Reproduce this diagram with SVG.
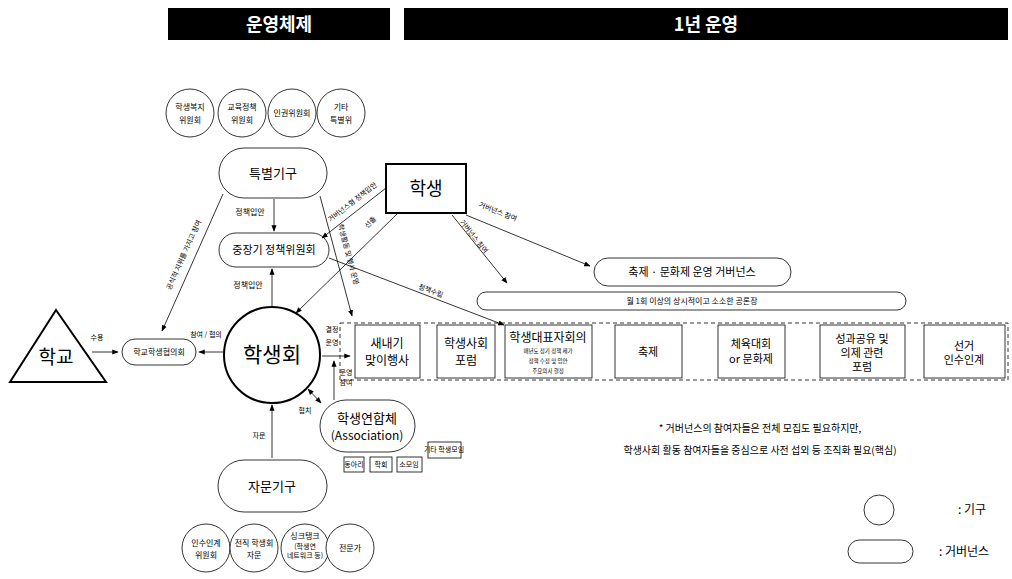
<svg xmlns="http://www.w3.org/2000/svg" width="1012" height="579" viewBox="0 0 1012 579">
<style>
text{font-family:"Noto Sans CJK KR","Liberation Serif",serif;fill:#000;text-anchor:middle}
.s{stroke:#000;fill:#fff;stroke-width:0.8}
.b{stroke:#000;fill:#fff;stroke-width:2}
.l{stroke:#000;fill:none;stroke-width:0.8}
.d{stroke:#000;fill:none;stroke-width:0.8;stroke-dasharray:4 3}
.t6{font-size:7px}.t8{font-size:8px}.t9{font-size:9px}.t11{font-size:11px}.t12{font-size:12px}.t13{font-size:13px}
</style>
<defs>
<marker id="a" viewBox="0 0 10 10" refX="9" refY="5" markerWidth="8" markerHeight="8" orient="auto-start-reverse"><path d="M0,1 L10,5 L0,9 z" fill="#000"/></marker>
</defs>
<rect width="1012" height="579" fill="#fff"/>
<g id="headers">
<rect x="168" y="8" width="222" height="32" fill="#000"/>
<text x="279" y="31" style="font-size:18px;fill:#fff;font-weight:bold">운영체제</text>
<rect x="404" y="8" width="604" height="32" fill="#000"/>
<text x="706" y="31" style="font-size:18px;fill:#fff;font-weight:bold">1년 운영</text>
</g>
<g id="top-circles">
<circle class="s" cx="190" cy="113" r="24"/><text class="t8" x="190" y="110">학생복지</text><text class="t8" x="190" y="123">위원회</text>
<circle class="s" cx="242" cy="113" r="24"/><text class="t8" x="242" y="110">교육정책</text><text class="t8" x="242" y="123">위원회</text>
<circle class="s" cx="292" cy="113" r="24"/><text class="t8" x="292" y="116">인권위원회</text>
<circle class="s" cx="341" cy="113" r="24"/><text class="t8" x="341" y="110">기타</text><text class="t8" x="341" y="123">특별위</text>
</g>
<g id="teukbyeol"><rect class="s" x="219" y="148" width="108" height="50" rx="25"/><text class="t13" x="273" y="178">특별기구</text></g>
<g id="jungjanggi"><rect class="s" x="219" y="233" width="110" height="34" rx="17"/><text class="t11" x="274" y="254">중장기 정책위원회</text></g>
<g id="haksaeng"><rect class="b" x="386" y="164" width="80" height="49"/><text x="426" y="195" style="font-size:18px">학생</text></g>
<g id="haksaenghoe"><circle class="b" cx="272" cy="355" r="48"/><text x="272" y="362" style="font-size:21px">학생회</text></g>
<g id="hakgyo"><polygon class="b" points="10,382 56,310 106,382"/><text x="56" y="364" style="font-size:19px">학교</text></g>
<g id="hyeobuihoe"><rect class="s" x="122" y="339" width="74" height="26" rx="13"/><text class="t8" x="159" y="355">학교학생협의회</text></g>
<g id="yeonhapche"><rect class="s" x="320" y="400" width="95" height="52" rx="26"/><text class="t13" x="367" y="423">학생연합체</text><text x="367" y="440" style="font-size:12px">(Association)</text></g>
<g id="subgroups">
<rect class="s" x="344" y="457" width="20" height="15"/><text class="t6" x="354" y="467">동아리</text>
<rect class="s" x="370" y="457" width="22" height="15"/><text class="t6" x="381" y="467">학회</text>
<rect class="s" x="397" y="457" width="25" height="15"/><text class="t6" x="409" y="467">소모임</text>
<rect class="s" x="428" y="442" width="33" height="16"/><text class="t6" x="444" y="452">기타 학생모임</text>
</g>
<g id="jamun"><rect class="s" x="218" y="460" width="109" height="52" rx="26"/><text class="t13" x="272" y="491">자문기구</text></g>
<g id="bottom-circles">
<circle class="s" cx="206" cy="548" r="24"/><text class="t8" x="206" y="546">인수인계</text><text class="t8" x="206" y="558">위원회</text>
<circle class="s" cx="254" cy="548" r="24"/><text class="t8" x="254" y="546">전직 학생회</text><text class="t8" x="254" y="558">자문</text>
<circle class="s" cx="305" cy="548" r="24"/><text class="t8" x="305" y="539">싱크탱크</text><text class="t6" x="305" y="549">(학생연</text><text class="t6" x="305" y="558">네트워크 등)</text>
<circle class="s" cx="350" cy="548" r="24"/><text class="t8" x="350" y="551">전문가</text>
</g>
<g id="gov1"><rect class="s" x="594" y="258" width="197" height="28" rx="14"/><text class="t11" x="692" y="276">축제 · 문화제 운영 거버넌스</text></g>
<g id="gov2"><rect class="s" x="477" y="292" width="429" height="18" rx="9"/><text class="t8" x="692" y="304">월 1회 이상의 상시적이고 소소한 공론장</text></g>
<g id="events">
<rect class="d" x="340" y="323" width="668" height="57"/>
<rect class="s" x="355" y="325" width="65" height="53"/><text class="t12" x="387" y="348">새내기</text><text class="t12" x="387" y="365">맞이행사</text>
<rect class="s" x="437" y="325" width="58" height="53"/><text class="t12" x="466" y="348">학생사회</text><text class="t12" x="466" y="365">포럼</text>
<rect class="s" x="505" y="325" width="87" height="53"/><text class="t12" x="548" y="342">학생대표자회의</text><text style="font-size:5.5px" x="548" y="353">매년도 정기 정책 제가</text><text style="font-size:5.5px" x="548" y="363">정책 수정 및 입안</text><text style="font-size:5.5px" x="548" y="373">주요의사 결정</text>
<rect class="s" x="615" y="325" width="67" height="53"/><text class="t11" x="648" y="356">축제</text>
<rect class="s" x="718" y="325" width="67" height="53"/><text class="t11" x="751" y="348">체육대회</text><text class="t11" x="751" y="363">or 문화제</text>
<rect class="s" x="820" y="325" width="85" height="53"/><text class="t11" x="862" y="343">성과공유 및</text><text class="t11" x="862" y="357">의제 관련</text><text class="t11" x="862" y="371">포럼</text>
<rect class="s" x="924" y="325" width="81" height="53"/><text class="t11" x="964" y="350">선거</text><text class="t11" x="964" y="364">인수인계</text>
</g>
<g id="note">
<text x="760" y="432" style="font-size:10px;font-family:'Noto Sans CJK KR',sans-serif">* 거버넌스의 참여자들은 전체 모집도 필요하지만,</text>
<text x="760" y="454" style="font-size:10px;font-family:'Noto Sans CJK KR',sans-serif">학생사회 활동 참여자들을 중심으로 사전 섭외 등 조직화 필요(핵심)</text>
</g>
<g id="legend">
<circle class="s" cx="879" cy="510" r="15"/><text x="972" y="514" style="font-size:12px;font-family:'Noto Sans CJK KR',sans-serif">: 기구</text>
<rect class="s" x="848" y="540" width="65" height="23" rx="11.5"/><text x="964" y="556" style="font-size:12px;font-family:'Noto Sans CJK KR',sans-serif">: 거버넌스</text>
</g>
<g id="connectors">
<line class="l" x1="274" y1="199" x2="274" y2="231" marker-end="url(#a)"/>
<text class="t8" x="250" y="215">정책입안</text>
<line class="l" x1="272" y1="307" x2="272" y2="269" marker-end="url(#a)"/>
<text class="t8" x="248" y="288">정책입안</text>
<line class="l" x1="386" y1="188" x2="322" y2="238" marker-end="url(#a)"/>
<text class="t6" transform="translate(354,204) rotate(-38)">거버넌스형 정책입안</text>
<line class="l" x1="398" y1="213" x2="296" y2="313" marker-end="url(#a)"/>
<text class="t6" transform="translate(372,224) rotate(-45)">선출</text>
<line class="l" x1="320" y1="196" x2="352" y2="316" marker-end="url(#a)"/>
<text class="t6" transform="translate(346,255) rotate(75)">학생활동 및 행사 운영</text>
<line class="l" x1="329" y1="258" x2="504" y2="325" marker-end="url(#a)"/>
<text class="t6" transform="translate(430,293) rotate(21)">정책수립</text>
<line class="l" x1="466" y1="215" x2="590" y2="266" marker-end="url(#a)"/>
<text class="t6" transform="translate(497,214) rotate(22)">거버넌스 참여</text>
<line class="l" x1="452" y1="215" x2="507" y2="283" marker-end="url(#a)"/>
<text class="t6" transform="translate(472,238) rotate(52)">거버넌스 참여</text>
<line class="l" x1="223" y1="194" x2="162" y2="331" marker-end="url(#a)"/>
<text class="t6" transform="translate(186,256) rotate(-66)">공식적 지위를 가지고 참여</text>
<line class="l" x1="92" y1="352" x2="118" y2="352" marker-end="url(#a)"/>
<text class="t6" x="97" y="340">수용</text>
<line class="l" x1="224" y1="352" x2="199" y2="352" marker-end="url(#a)"/>
<text class="t6" x="206" y="337">참여 / 협의</text>
<line class="l" x1="322" y1="356" x2="350" y2="356" marker-end="url(#a)"/>
<text class="t6" x="332" y="332">결정</text><text class="t6" x="332" y="345">운영</text>
<line class="l" x1="334" y1="400" x2="334" y2="361" marker-end="url(#a)"/>
<text class="t6" x="346" y="375">운영</text><text class="t6" x="346" y="385">참여</text>
<line class="l" x1="308" y1="389" x2="321" y2="403" marker-start="url(#a)" marker-end="url(#a)"/>
<text class="t6" x="305" y="413">협치</text>
<line class="l" x1="272" y1="458" x2="272" y2="405" marker-end="url(#a)"/>
<text class="t6" x="259" y="438">자문</text>
</g>
</svg>
